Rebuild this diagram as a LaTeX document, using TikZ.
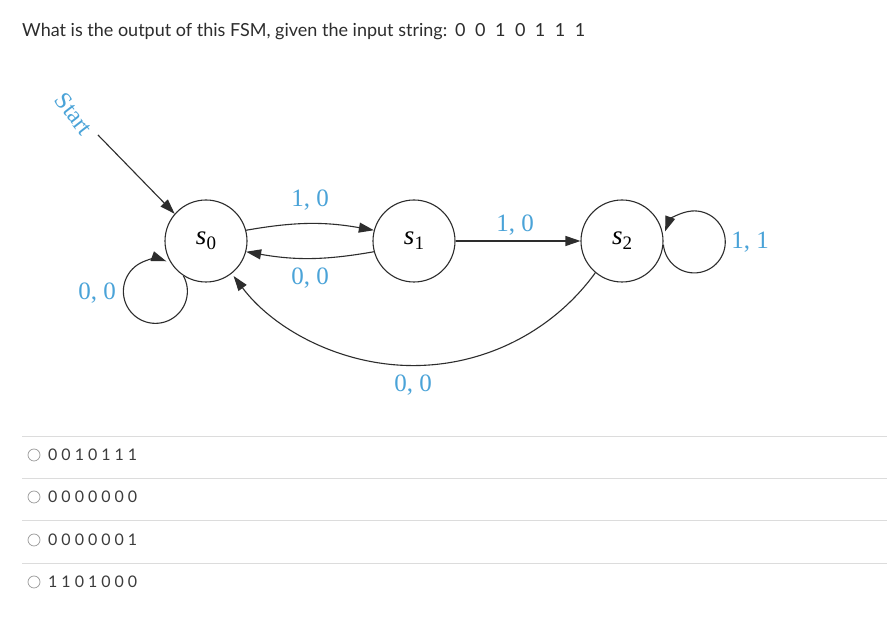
\documentclass[tikz,border=0pt]{standalone}
\usepackage{fontspec}
\setmainfont{Liberation Serif}
\newfontfamily\latofont{Lato}
\usetikzlibrary{arrows.meta}
\definecolor{lblue}{RGB}{74,163,216}
\definecolor{edgec}{RGB}{45,45,45}
\definecolor{sepc}{RGB}{220,220,220}
\definecolor{qtext}{RGB}{45,45,45}
\definecolor{otext}{RGB}{60,60,60}
\begin{document}
\begin{tikzpicture}[x=1pt,y=1pt,
  state/.style={circle,draw=edgec,line width=1.1pt,minimum size=82pt,inner sep=0pt},
  edge/.style={draw=edgec,line width=1.1pt,-{Triangle[length=15pt,width=10pt]}},
  lbl/.style={text=lblue,font=\fontsize{25}{25}\selectfont,inner sep=0pt},
  sep/.style={draw=sepc,line width=0.9pt},
  radio/.style={circle,draw=gray!80,line width=0.7pt,minimum size=12pt,inner sep=0pt},
  opt/.style={anchor=base west,inner sep=0pt,text=otext,font=\latofont\addfontfeatures{LetterSpace=25}\fontsize{16}{16}\selectfont}]
\useasboundingbox (0,0) rectangle (887,626);
\fill[white] (0,0) rectangle (887,626);
% question
\node[anchor=base west,inner sep=0pt,text=qtext,font=\latofont\fontsize{18}{18}\selectfont] (q) at (22,589) {What is the output of this FSM, given the input string:};
\node[anchor=base west,inner sep=0pt,text=qtext,font=\latofont\fontsize{18}{18}\selectfont] (qd) at (455,589) {0\hspace{9.5pt}0\hspace{9.5pt}1\hspace{9.5pt}0\hspace{9.5pt}1\hspace{9.5pt}1\hspace{9.5pt}1};
% states
\node[state] (s0) at (206,385) {\fontsize{27}{27}\selectfont\itshape s\raisebox{-5pt}{\upshape\fontsize{19}{19}\selectfont 0}};
\node[state] (s1) at (414,385) {\fontsize{27}{27}\selectfont\itshape s\raisebox{-5pt}{\upshape\fontsize{19}{19}\selectfont 1}};
\node[state] (s2) at (622,385) {\fontsize{27}{27}\selectfont\itshape s\raisebox{-5pt}{\upshape\fontsize{19}{19}\selectfont 2}};
% start
\coordinate (st) at (98,491);
\node[text=lblue,rotate=-52,font=\fontsize{24}{24}\selectfont,inner sep=0pt] (stl) at (74,512) {Start};
\draw[edge] (st) -- (s0.139);
% edges
\draw[edge] (s0.15) to[bend left=10] (s1.165);
\draw[edge] (s1.195) to[bend left=10] (s0.-15);
\draw[edge] (s1) -- (s2);
\draw[edge] (s2.-130) arc[start angle=-36,end angle=-143,radius=225];
\draw[edge] (s0.-123) arc[start angle=29,end angle=-290,radius=32];
\draw[edge] (s2.-5) arc[start angle=185,end angle=520,radius=31];
% labels
\node[lbl] (l1) at (310,426) {1, 0};
\node[lbl] (l2) at (310,348) {0, 0};
\node[lbl] (l3) at (515,401) {1, 0};
\node[lbl] (l4) at (750,384) {1, 1};
\node[lbl] (l5) at (413,241) {0, 0};
\node[lbl] (l6) at (97,333) {0, 0};
% separators and options
\draw[sep] (22,190) -- (887,190);
\draw[sep] (22,148) -- (887,148);
\draw[sep] (22,106) -- (887,106);
\draw[sep] (22,63) -- (887,63);
\node[radio] (r1) at (34,171) {};
\node[radio] (r2) at (34,129) {};
\node[radio] (r3) at (34,86) {};
\node[radio] (r4) at (34,44) {};
\node[opt] (o1) at (48,165) {0010111};
\node[opt] (o2) at (48,123) {0000000};
\node[opt] (o3) at (48,80) {0000001};
\node[opt] (o4) at (48,38) {1101000};
\end{tikzpicture}
\end{document}
